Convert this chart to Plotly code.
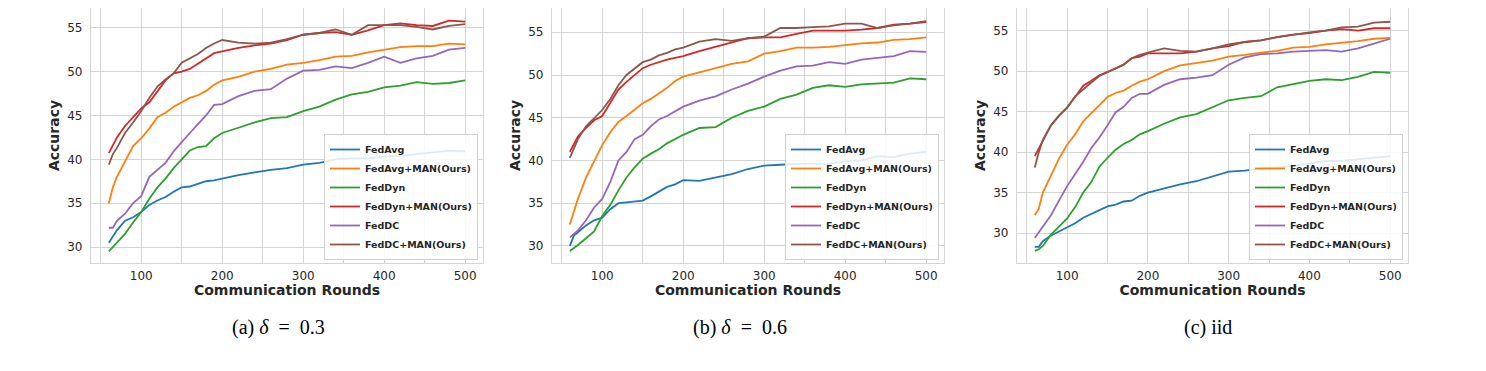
import plotly.graph_objects as go

# The page body has a default 8px margin, so the figure is sized and placed to compensate.
PAGE_OFF = 8
W, H = 1486 - PAGE_OFF, 371 - PAGE_OFF

rounds = [60, 65, 70, 80, 90, 100, 110, 120, 130, 140, 150, 160, 170, 180, 190, 200,
          220, 240, 260, 280, 300, 320, 340, 360, 380, 400, 420, 440, 460, 480, 500]

methods = ["FedAvg", "FedAvg+MAN(Ours)", "FedDyn", "FedDyn+MAN(Ours)", "FedDC", "FedDC+MAN(Ours)"]
colors = ["#1f77b4", "#ff7f0e", "#2ca02c", "#d62728", "#9467bd", "#8c564b"]

# (a) delta = 0.3
d03_fedavg = [30.5, 31.2, 31.9, 33.0, 33.4, 34.0, 34.8, 35.3, 35.7, 36.3, 36.8, 36.9, 37.2, 37.5, 37.6, 37.8,
              38.2, 38.5, 38.8, 39.0, 39.4, 39.6, 40.0, 40.1, 40.1, 40.3, 40.4, 40.6, 40.8, 41.0, 40.9]
d03_fedavg_man = [35.0, 36.8, 38.0, 39.8, 41.5, 42.4, 43.5, 44.8, 45.3, 46.0, 46.5, 47.0, 47.3, 47.8, 48.5, 49.0,
                  49.4, 50.0, 50.3, 50.8, 51.0, 51.3, 51.7, 51.8, 52.2, 52.5, 52.8, 52.9, 52.9, 53.2, 53.1]
d03_feddyn = [29.5, 30.0, 30.5, 31.5, 32.8, 34.0, 35.5, 36.8, 37.8, 39.0, 40.0, 41.0, 41.4, 41.5, 42.4, 43.0,
              43.6, 44.2, 44.7, 44.8, 45.5, 46.0, 46.8, 47.4, 47.7, 48.2, 48.4, 48.8, 48.6, 48.7, 49.0]
d03_feddyn_man = [40.7, 41.6, 42.5, 43.8, 44.8, 45.8, 46.5, 47.8, 49.0, 49.8, 50.0, 50.3, 50.9, 51.6, 52.1, 52.3,
                  52.7, 53.0, 53.2, 53.6, 54.2, 54.4, 54.5, 54.2, 54.7, 55.3, 55.5, 55.3, 55.2, 55.8, 55.7]
d03_feddc = [32.2, 32.2, 33.0, 33.8, 35.0, 35.8, 38.0, 38.8, 39.6, 40.9, 42.0, 43.0, 44.0, 45.0, 46.2, 46.3,
             47.2, 47.8, 48.0, 49.2, 50.1, 50.2, 50.6, 50.4, 51.0, 51.7, 51.0, 51.5, 51.8, 52.5, 52.7]
d03_feddc_man = [39.4, 40.6, 41.3, 43.0, 44.2, 45.5, 47.0, 48.3, 49.1, 49.8, 51.0, 51.5, 52.0, 52.7, 53.2, 53.6,
                 53.3, 53.2, 53.3, 53.7, 54.2, 54.4, 54.8, 54.2, 55.3, 55.3, 55.3, 55.1, 54.8, 55.2, 55.4]

# (b) delta = 0.6
d06_fedavg = [30.0, 31.2, 31.6, 32.4, 33.0, 33.3, 34.3, 35.0, 35.1, 35.2, 35.3, 35.8, 36.4, 36.9, 37.2, 37.7,
              37.6, 38.0, 38.4, 39.0, 39.4, 39.5, 39.6, 39.6, 39.6, 39.9, 40.0, 40.5, 40.4, 40.8, 41.0]
d06_fedavg_man = [32.5, 34.0, 35.5, 38.0, 40.0, 41.8, 43.3, 44.5, 45.2, 46.0, 46.7, 47.2, 47.8, 48.5, 49.3, 49.8,
                  50.3, 50.8, 51.3, 51.6, 52.5, 52.8, 53.2, 53.2, 53.3, 53.5, 53.7, 53.8, 54.1, 54.2, 54.4]
d06_feddyn = [29.4, 29.7, 30.1, 30.9, 31.7, 33.5, 34.8, 36.5, 38.0, 39.2, 40.2, 40.8, 41.3, 42.0, 42.5, 43.0,
              43.8, 43.9, 45.0, 45.8, 46.3, 47.2, 47.7, 48.5, 48.8, 48.6, 48.9, 49.0, 49.1, 49.6, 49.5]
d06_feddyn_man = [41.0, 42.0, 42.8, 43.8, 44.7, 45.2, 46.7, 48.3, 49.2, 50.0, 50.8, 51.2, 51.5, 51.8, 52.0, 52.2,
                  52.8, 53.3, 53.8, 54.3, 54.4, 54.4, 54.8, 55.2, 55.2, 55.2, 55.3, 55.5, 55.9, 56.0, 56.2]
d06_feddc = [31.0, 31.4, 31.8, 33.0, 34.5, 35.5, 37.5, 40.0, 41.0, 42.5, 43.0, 44.0, 44.8, 45.2, 45.8, 46.3,
             47.0, 47.5, 48.3, 49.0, 49.8, 50.5, 51.0, 51.1, 51.5, 51.3, 51.8, 52.0, 52.2, 52.8, 52.7]
d06_feddc_man = [40.3, 41.5, 42.5, 44.0, 45.0, 45.9, 47.2, 48.8, 50.0, 50.8, 51.5, 51.8, 52.3, 52.6, 53.0, 53.2,
                 53.9, 54.2, 54.0, 54.3, 54.5, 55.5, 55.5, 55.6, 55.7, 56.0, 56.0, 55.5, 55.8, 56.0, 56.3]

# (c) iid
iid_fedavg = [28.3, 28.3, 29.0, 29.7, 30.2, 30.7, 31.2, 31.9, 32.4, 32.9, 33.3, 33.5, 33.9, 34.0, 34.6, 35.0,
              35.5, 36.0, 36.4, 37.0, 37.6, 37.7, 38.0, 38.1, 38.3, 38.6, 38.9, 38.9, 39.1, 39.3, 39.5]
iid_fedavg_man = [32.2, 33.0, 35.0, 37.2, 39.2, 40.9, 42.2, 43.8, 44.8, 45.9, 46.8, 47.3, 47.6, 48.2, 48.7, 49.0,
                  50.0, 50.7, 51.0, 51.3, 51.8, 52.0, 52.3, 52.5, 52.9, 53.0, 53.3, 53.5, 53.7, 54.0, 54.1]
iid_feddyn = [27.8, 28.0, 28.4, 29.8, 30.8, 31.8, 33.2, 35.0, 36.3, 38.2, 39.3, 40.3, 41.0, 41.5, 42.2, 42.6,
              43.5, 44.3, 44.7, 45.5, 46.4, 46.7, 46.9, 48.0, 48.4, 48.8, 49.0, 48.9, 49.3, 49.9, 49.8]
iid_feddyn_man = [39.5, 40.5, 41.5, 43.3, 44.5, 45.5, 46.8, 48.2, 48.8, 49.5, 49.9, 50.3, 50.8, 51.6, 51.8, 52.2,
                  52.2, 52.2, 52.4, 52.8, 53.1, 53.6, 53.8, 54.2, 54.5, 54.7, 55.0, 55.2, 55.0, 55.3, 55.3]
iid_feddc = [29.4, 30.1, 30.8, 32.2, 34.0, 35.8, 37.3, 38.8, 40.5, 41.8, 43.3, 44.9, 45.6, 46.7, 47.2, 47.2,
             48.3, 49.0, 49.2, 49.5, 50.8, 51.7, 52.1, 52.2, 52.4, 52.5, 52.6, 52.4, 52.8, 53.4, 54.0]
iid_feddc_man = [38.1, 40.0, 41.5, 43.3, 44.5, 45.5, 46.9, 47.8, 48.6, 49.4, 49.9, 50.3, 50.8, 51.6, 52.0, 52.3,
                 52.8, 52.5, 52.4, 52.8, 53.3, 53.6, 53.8, 54.2, 54.5, 54.8, 55.0, 55.4, 55.5, 56.0, 56.1]

panels = [
    [d03_fedavg, d03_fedavg_man, d03_feddyn, d03_feddyn_man, d03_feddc, d03_feddc_man],
    [d06_fedavg, d06_fedavg_man, d06_feddyn, d06_feddyn_man, d06_feddc, d06_feddc_man],
    [iid_fedavg, iid_fedavg_man, iid_feddyn, iid_feddyn_man, iid_feddc, iid_feddc_man],
]
captions = ["(a) <i>δ</i>&nbsp;&nbsp;=&nbsp;&nbsp;0.3", "(b) <i>δ</i>&nbsp;&nbsp;=&nbsp;&nbsp;0.6", "(c) iid"]
x_ticks = [100, 200, 300, 400, 500]
y_ticks = [30, 35, 40, 45, 50, 55]

# layout geometry (page pixels)
plot_px = [(91, 483), (552, 944), (1017, 1408)]
y_ranges = [(28.18, 57.25), (28.0, 57.84), (26.3, 57.8)]
legend_right = [478, 939, 1403]
caption_x = [278, 740, 1208]
top_px, bot_px = 8, 263


def fx(px):
    return (px - PAGE_OFF) / W


def fy(py):
    return 1 - (py - PAGE_OFF) / H


fig = go.Figure()
TXT = "#262626"
GRID = "#d4d4d4"

for p, series in enumerate(panels):
    sfx = "" if p == 0 else str(p + 1)
    leg = "legend" if p == 0 else "legend" + str(p + 1)
    for name, col, vals in zip(methods, colors, series):
        fig.add_trace(go.Scatter(
            x=rounds, y=vals, mode="lines", name=name,
            line=dict(color=col, width=1.8),
            xaxis="x" + sfx, yaxis="y" + sfx, legend=leg,
        ))
    x0, x1 = plot_px[p]
    axis_common = dict(
        showgrid=True, gridcolor=GRID, gridwidth=1,
        showline=True, linecolor=GRID, linewidth=1.2, mirror=True,
        zeroline=False, ticks="", ticklen=0,
        tickfont=dict(family="DejaVu Sans", size=12, color=TXT),
    )
    fig.layout["xaxis" + sfx] = dict(
        axis_common,
        domain=[fx(x0), fx(x1)], anchor="y" + sfx,
        range=[38, 522], tickvals=x_ticks, ticklabelstandoff=1,
        minor=dict(tick0=0, dtick=50, showgrid=True, gridcolor=GRID, gridwidth=1, ticks="", ticklen=0),
        title=dict(text="<b>Communication Rounds</b>", standoff=2,
                   font=dict(family="DejaVu Sans", size=14, color=TXT)),
    )
    fig.layout["yaxis" + sfx] = dict(
        axis_common,
        domain=[max(0.0, fy(bot_px)), min(1.0, fy(top_px))], anchor="x" + sfx,
        range=list(y_ranges[p]), tickvals=y_ticks, ticklabelstandoff=5,
        title=dict(text="<b>Accuracy</b>", standoff=4,
                   font=dict(family="DejaVu Sans", size=14, color=TXT)),
    )
    fig.layout[leg] = dict(
        x=fx(legend_right[p]), xanchor="right",
        y=fy(260), yanchor="bottom",
        bgcolor="rgba(255,255,255,0.85)", bordercolor="#d0d0d0", borderwidth=1,
        font=dict(family="DejaVu Sans", size=9.5, color=TXT, weight="bold"),
        tracegroupgap=0, itemwidth=30,
    )
    fig.add_annotation(
        text=captions[p], xref="paper", yref="paper",
        x=fx(caption_x[p]), y=fy(327), xanchor="center", yanchor="middle",
        showarrow=False, font=dict(family="Liberation Serif", size=20, color="#000000"),
    )

fig.update_layout(
    width=W, height=H, margin=dict(l=0, r=0, t=0, b=0),
    paper_bgcolor="white", plot_bgcolor="white",
    showlegend=True,
)

fig.write_html("out.html")
